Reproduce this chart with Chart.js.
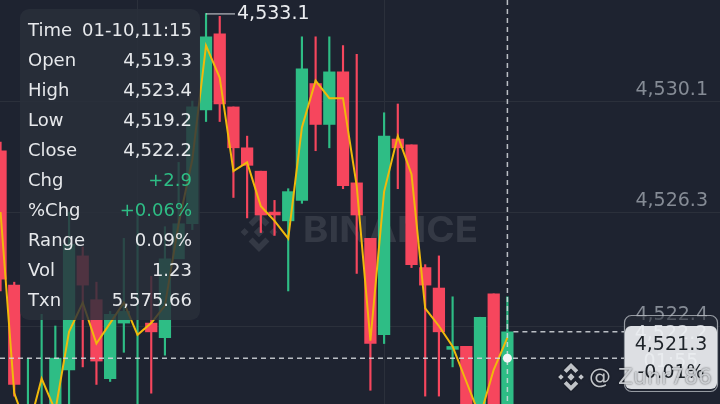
<!DOCTYPE html>
<html>
<head>
<meta charset="utf-8">
<script src="https://cdn.jsdelivr.net/npm/chart.js@4.4.1/dist/chart.umd.min.js"></script>
<style>
  html, body { margin: 0; padding: 0; background: #1e2330; overflow: hidden; }
  #wrap { width: 720px; height: 404px; }
</style>
</head>
<body>
<div id="wrap"><canvas id="myChart" width="720" height="404"></canvas></div>
<script>
// ローソク足 (左から順に, 15分足)
const opens  = [4528.4, 4523.8, 4518.5, 4518.3, 4519.2, 4520.9, 4524.8, 4523.3, 4520.6, 4522.5, 4519.5, 4522.5, 4522.0, 4524.7, 4525.9, 4529.8, 4532.4, 4529.9, 4528.5, 4527.7, 4526.3, 4526.0, 4526.7, 4530.7, 4529.3, 4531.1, 4527.3, 4525.4, 4522.1, 4528.8, 4528.6, 4524.4, 4523.7, 4521.6, 4521.7, 4518.9, 4523.5, 4519.3];
const highs  = [4528.7, 4523.9, 4521.3, 4522.8, 4522.4, 4526.3, 4525.1, 4523.9, 4522.9, 4525.4, 4526.3, 4524.1, 4525.8, 4528.0, 4530.1, 4533.1, 4533.0, 4529.9, 4528.9, 4527.7, 4526.7, 4527.1, 4532.3, 4532.3, 4532.3, 4532.0, 4531.7, 4525.4, 4529.7, 4530.0, 4528.6, 4524.5, 4524.8, 4523.4, 4521.7, 4522.7, 4523.5, 4523.4];
const lows   = [4523.6, 4520.0, 4518.3, 4518.2, 4518.8, 4519.5, 4521.0, 4520.4, 4520.5, 4521.5, 4519.2, 4520.1, 4521.4, 4525.5, 4525.7, 4529.4, 4529.4, 4526.8, 4526.1, 4525.6, 4525.5, 4523.6, 4526.6, 4528.4, 4528.5, 4527.1, 4524.2, 4520.2, 4521.8, 4527.1, 4524.4, 4520.0, 4520.0, 4521.0, 4518.5, 4518.6, 4518.8, 4519.2];
const closes = [4524.0, 4520.4, 4519.4, 4519.5, 4521.3, 4525.2, 4523.8, 4521.2, 4522.8, 4522.9, 4519.7, 4522.2, 4524.7, 4525.9, 4529.9, 4532.3, 4530.0, 4528.5, 4527.9, 4526.2, 4526.2, 4527.0, 4531.2, 4529.3, 4531.1, 4527.2, 4526.2, 4521.8, 4528.9, 4528.5, 4524.5, 4523.8, 4522.2, 4521.7, 4518.8, 4522.7, 4519.3, 4522.2];
// 黄色の移動平均線
const maLine = [4526.3, 4520.1, 4518.8, 4520.6, 4519.5, 4522.2, 4523.2, 4521.8, 4522.5, 4523.2, 4522.1, 4522.5, 4523.1, 4525.9, 4528.1, 4532.0, 4530.9, 4527.7, 4528.0, 4526.5, 4526.0, 4525.4, 4529.2, 4530.8, 4530.2, 4530.2, 4527.2, 4521.9, 4527.0, 4528.9, 4527.6, 4523.0, 4522.4, 4521.7, 4520.5, 4519.3, 4520.9, 4522.0];

const priceTicks = [4522.4, 4526.3, 4530.1];
const timeGrid = [10, 28];
const priceMin = 4519.73, priceMax = 4533.56;
const slotMin = -0.04, slotMax = 52.52;

// 情報パネル
const infoLabels = ['Time', 'Open', 'High', 'Low', 'Close', 'Chg', '%Chg', 'Range', 'Vol', 'Txn'];
const infoValues = ['01-10,11:15', '4,519.3', '4,523.4', '4,519.2', '4,522.2', '+2.9', '+0.06%', '0.09%', '1.23', '5,575.66'];
const infoGreen  = [false, false, false, false, false, true, true, false, false, false];

const hoverIndex = 37;
const hoverPrice = 4521.3;
const hoverChange = '-0.01%';
const lastPrice = 4522.2;
const countdown = '01:55';
const highIndex = 15;
const watermark = 'BINANCE';
const author = '@ Zunr786';

const green = '#2ebd85', red = '#f6465d', font = '"DejaVu Sans", sans-serif';
const fmt = v => v.toLocaleString('en-US', { minimumFractionDigits: 1, maximumFractionDigits: 1 });
const candleColors = opens.map((o, i) => closes[i] >= o ? green : red);

function logo(ctx, cx, cy, s) {
    const d = (x, y, r) => { ctx.moveTo(x, y - r); ctx.lineTo(x + r, y); ctx.lineTo(x, y + r); ctx.lineTo(x - r, y); ctx.closePath(); };
    ctx.beginPath();
    d(cx, cy, s * 0.13);
    d(cx - s * 0.36, cy, s * 0.1);
    d(cx + s * 0.36, cy, s * 0.1);
    [-1, 1].forEach(k => {
        ctx.moveTo(cx, cy + k * s * 0.5);
        ctx.lineTo(cx + s * 0.26, cy + k * s * 0.24);
        ctx.lineTo(cx + s * 0.16, cy + k * s * 0.14);
        ctx.lineTo(cx, cy + k * s * 0.3);
        ctx.lineTo(cx - s * 0.16, cy + k * s * 0.14);
        ctx.lineTo(cx - s * 0.26, cy + k * s * 0.24);
        ctx.closePath();
    });
    ctx.fill();
}

const overlay = {
    id: 'overlay',
    beforeDraw(chart) {
        const ctx = chart.ctx;
        ctx.save();
        ctx.fillStyle = '#1e2330';
        ctx.fillRect(0, 0, chart.width, chart.height);
        ctx.restore();
    },
    beforeDatasetsDraw(chart) {
        // 中央の透かし
        const ctx = chart.ctx;
        ctx.save();
        ctx.fillStyle = 'rgba(255,255,255,0.1)';
        logo(ctx, 259, 232, 40);
        ctx.font = 'bold 36px Inter, sans-serif';
        ctx.textBaseline = 'middle';
        const w = ctx.measureText(watermark).width;
        ctx.translate(303, 231);
        ctx.scale(175 / w, 1);
        ctx.fillText(watermark, 0, 0);
        ctx.restore();
    },
    afterDraw(chart) {
        const ctx = chart.ctx, x = chart.scales.x, y = chart.scales.y;
        ctx.save();
        ctx.textBaseline = 'middle';

        // 価格軸ラベル (右側, グリッド線の上)
        ctx.fillStyle = '#858b95';
        ctx.font = '19px ' + font;
        ctx.textAlign = 'right';
        priceTicks.forEach(v => ctx.fillText(fmt(v), 708, y.getPixelForValue(v) - 11));

        // 最高値マーカー
        const hx = x.getPixelForValue(highIndex), hy = y.getPixelForValue(highs[highIndex]);
        ctx.strokeStyle = '#d8dbe0';
        ctx.lineWidth = 1;
        ctx.beginPath();
        ctx.moveTo(hx, hy + 0.5);
        ctx.lineTo(hx + 29, hy + 0.5);
        ctx.stroke();
        ctx.fillStyle = '#eaecef';
        ctx.textAlign = 'left';
        ctx.fillText(fmt(highs[highIndex]), hx + 31, hy + 1);

        // 十字線
        const cx = x.getPixelForValue(hoverIndex), cy = y.getPixelForValue(hoverPrice);
        const ly = y.getPixelForValue(lastPrice);
        const boxL = 624;
        ctx.strokeStyle = 'rgba(214,217,222,0.85)';
        ctx.lineWidth = 1.5;
        ctx.setLineDash([5, 4]);
        ctx.beginPath();
        ctx.moveTo(cx, 0); ctx.lineTo(cx, chart.height);
        ctx.moveTo(0, cy); ctx.lineTo(boxL, cy);
        ctx.moveTo(cx + 6, ly); ctx.lineTo(boxL, ly);
        ctx.stroke();
        ctx.setLineDash([]);
        ctx.fillStyle = '#f4f5f6';
        ctx.beginPath();
        ctx.arc(cx, cy, 4.5, 0, Math.PI * 2);
        ctx.fill();

        // 情報パネル
        ctx.fillStyle = 'rgba(41,47,58,0.82)';
        ctx.beginPath();
        ctx.roundRect(20, 9, 180, 311, 9);
        ctx.fill();
        ctx.font = '18px ' + font;
        infoLabels.forEach((lab, k) => {
            const ry = 31 + 30 * k;
            ctx.textAlign = 'left';
            ctx.fillStyle = '#e6e8eb';
            ctx.fillText(lab, 28, ry);
            ctx.textAlign = 'right';
            ctx.fillStyle = infoGreen[k] ? green : '#e6e8eb';
            ctx.fillText(infoValues[k], 192, ry);
        });

        // 右側の価格タグ
        ctx.fillStyle = 'rgba(40,45,56,0.55)';
        ctx.strokeStyle = 'rgba(200,204,210,0.7)';
        ctx.lineWidth = 1.2;
        ctx.beginPath();
        ctx.roundRect(boxL + 0.5, 315.5, 93, 76, 7);
        ctx.fill();
        ctx.stroke();
        ctx.textAlign = 'center';
        ctx.fillStyle = '#c9ccd2';
        ctx.font = '19px ' + font;
        ctx.fillText(fmt(lastPrice), 671, 334);
        ctx.fillText(countdown, 671, 362);
        ctx.fillStyle = 'rgba(236,238,241,0.93)';
        ctx.beginPath();
        ctx.roundRect(boxL + 1, 326, 92, 63, 6);
        ctx.fill();
        ctx.fillStyle = '#1e2329';
        ctx.fillText(fmt(hoverPrice), 671, 345);
        ctx.fillText(hoverChange, 671, 373);

        // 右下の透かし
        ctx.shadowColor = 'rgba(0,0,0,0.7)';
        ctx.shadowBlur = 2;
        ctx.fillStyle = 'rgba(212,215,220,0.9)';
        logo(ctx, 571, 377, 28);
        ctx.textAlign = 'left';
        ctx.font = '22px ' + font;
        ctx.fillText(author, 589, 378);
        ctx.restore();
    }
};

const ctx = document.getElementById('myChart').getContext('2d');
const myChart = new Chart(ctx, {
    type: 'bar',
    data: {
        datasets: [
            {
                type: 'line',
                label: 'MA',
                data: maLine.map((v, i) => ({ x: i, y: v })),
                borderColor: '#f0b90b',
                borderWidth: 2,
                pointRadius: 0,
                tension: 0,
                order: 0
            },
            {
                label: 'body',
                data: opens.map((o, i) => ({ x: i, y: [o, closes[i]] })),
                backgroundColor: candleColors,
                barThickness: 11.6,
                minBarLength: 1.5,
                grouped: false,
                order: 1
            },
            {
                label: 'wick',
                data: lows.map((l, i) => ({ x: i, y: [l, highs[i]] })),
                backgroundColor: candleColors,
                barThickness: 1.5,
                grouped: false,
                order: 2
            }
        ]
    },
    options: {
        responsive: false,
        animation: false,
        devicePixelRatio: 1,
        layout: { padding: 0 },
        plugins: { legend: { display: false }, tooltip: { enabled: false } },
        scales: {
            x: {
                type: 'linear',
                min: slotMin,
                max: slotMax,
                offset: false,
                afterBuildTicks: s => { s.ticks = timeGrid.map(v => ({ value: v })); },
                afterFit: s => { s.height = 0; },
                ticks: { display: false },
                grid: { color: '#2b303b', drawTicks: false, offset: false },
                border: { display: false }
            },
            y: {
                type: 'linear',
                position: 'right',
                min: priceMin,
                max: priceMax,
                beginAtZero: false,
                afterBuildTicks: s => { s.ticks = priceTicks.map(v => ({ value: v })); },
                afterFit: s => { s.width = 0; },
                ticks: { display: false },
                grid: { color: '#2b303b', drawTicks: false },
                border: { display: false }
            }
        }
    },
    plugins: [overlay]
});
</script>
</body>
</html>
